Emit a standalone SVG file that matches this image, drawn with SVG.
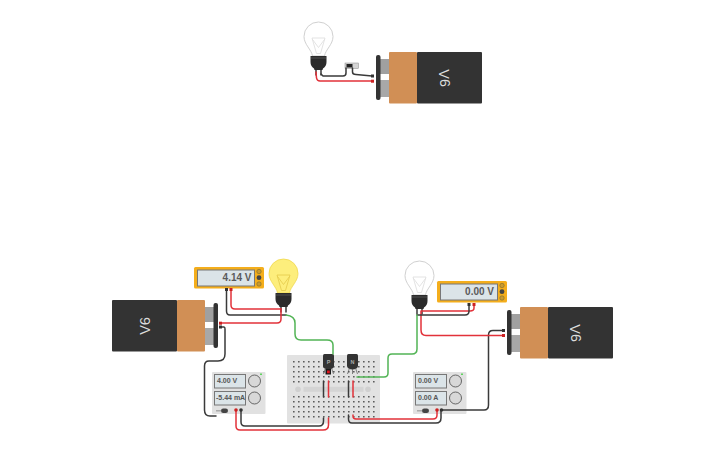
<svg xmlns="http://www.w3.org/2000/svg" width="725" height="453" viewBox="0 0 725 453">
<style>
text{font-family:"Liberation Sans",Arial,sans-serif;font-weight:bold;fill:#555}
.w{fill:none;stroke-width:1.5;stroke-linecap:round;stroke-linejoin:round}
.r{stroke:#e2323a}.k{stroke:#3a3a3a}.g{stroke:#52b455}
.glass{fill:#fff;stroke:#c4c4c4;stroke-width:.8}
.lit{fill:#fdee7c;stroke:#f0d84e;stroke-width:.8}
.fil{fill:none;stroke:#dcdcdc;stroke-width:.8}
.litfil{fill:none;stroke:#e3c94a;stroke-width:.8}
.base{fill:#2b2b2b}
.nine{font-size:14.500px;font-weight:normal;fill:#dcdcdc}
.mt{font-size:10px;text-anchor:end;fill:#5a5a5a}
.pt{font-size:7px;fill:#555}
.scr{fill:#dbe4e8;stroke:#777;stroke-width:1}
.hole{stroke:#5c5c5c;stroke-width:1.6;stroke-dasharray:1.6 3.4;fill:none}
</style>
<defs>
<g id="socket">
<path d="M-2.500 31V39M2.500 31V39" stroke="#2b2b2b" stroke-width="1.400" fill="none"/>
<path class="base" d="M-8 19.500h16v6q0 4 -3.500 6.500l-.5 1.500h-8l-.5 -1.500q-3.500 -2.500 -3.500 -6.500z"/>
<path d="M-7.500 21.500h15" stroke="#888" stroke-width=".6" opacity=".7"/>
</g>
<path id="gl" d="M-6 19.500C-7 13-14.500 8-14.500 0A14.500 14.500 0 0 1 14.500 0C14.500 8 7 13 6 19.500Z"/>
<path id="fl" d="M-6.500 1.500H6.500L2 17H-2ZM-6 3L0 11 6 3"/>
<g id="batL">
<rect x="0" y="0" width="28" height="51.500" fill="#d18f55" rx="1"/>
<rect x="28" y="0" width="65" height="51.500" fill="#333" rx="1"/>
<rect x="-9" y="7" width="9" height="15" fill="#a0a0a0"/>
<rect x="-9" y="28" width="9" height="17" fill="#a8a8a8"/>
<rect x="-13" y="3" width="4.500" height="45" rx="2" fill="#333"/>
</g>
<g id="knobs">
<rect x="0" y="0" width="53.500" height="42" fill="#e1e1e1" rx="1"/>
<rect x="2.500" y="2.500" width="31" height="13.500" class="scr"/>
<rect x="2.500" y="19.500" width="31" height="13.500" class="scr"/>
<circle cx="42.500" cy="9" r="6" fill="#d8d8d8" stroke="#666" stroke-width="1"/>
<circle cx="42.500" cy="26" r="6" fill="#d8d8d8" stroke="#666" stroke-width="1"/>
<rect x="48" y="1.500" width="2" height="1.500" fill="#5fd35f"/>
<rect x="9" y="36.500" width="7" height="4.500" rx="2.200" fill="#444"/>
<rect x="4" y="38" width="5" height="1.500" fill="#aaa"/>
</g>
<g id="dmm">
<rect x="0" y="0" width="70" height="21.500" rx="1.500" fill="#f4ae1c"/>
<rect x="3.500" y="3" width="57" height="16" fill="#dbe4e8" stroke="#777" stroke-width="1"/>
<circle cx="65" cy="4.500" r="2.200" fill="#c99a30" stroke="#7a6a30" stroke-width=".6"/>
<circle cx="65" cy="10.700" r="2.400" fill="#444"/>
<circle cx="65" cy="17" r="2.200" fill="#c99a30" stroke="#7a6a30" stroke-width=".6"/>
</g>
<g id="tr">
<path d="M-5.500 1.500q0 -1.500 1.500 -1.500h8q1.500 0 1.500 1.500v10.500a5.500 3.500 0 0 1 -11 0z" fill="#333"/>
<path d="M-3 14l-2 6M0 15v5M3 14l2 6" stroke="#555" stroke-width=".7" fill="none"/>
</g>
</defs>

<g id="battery-top"><use href="#batL" x="389" y="52"/><text class="nine" transform="translate(444.500 78) rotate(-90)" x="-9" y="5" dx="0 9.700" dy="0 -10.400" rotate="0 180">9V</text></g>
<g id="battery-left"><use href="#batL" transform="matrix(-1 0 0 1 205 300)"/><text class="nine" transform="translate(145 326) rotate(90)" x="-9" y="5" dx="0 9.700" dy="0 -10.400" rotate="0 180">9V</text></g>
<g id="battery-right"><use href="#batL" x="520" y="307"/><text class="nine" transform="translate(575.500 333) rotate(-90)" x="-9" y="5" dx="0 9.700" dy="0 -10.400" rotate="0 180">9V</text></g>

<g id="bulb-top" transform="translate(318.500 36.500)"><use href="#gl" class="glass"/><use href="#fl" class="fil"/><use href="#socket"/></g>
<g id="bulb-left" transform="translate(283.500 273.500)"><use href="#gl" class="lit"/><use href="#fl" class="litfil"/><use href="#socket"/></g>
<g id="bulb-right" transform="translate(419.500 275.500)"><use href="#gl" class="glass"/><use href="#fl" class="fil"/><use href="#socket"/></g>

<g id="switch"><rect x="345" y="63" width="13.500" height="5.500" fill="#d5d5d5" stroke="#888" stroke-width=".5"/><rect x="346.500" y="64" width="6" height="3.500" fill="#222"/></g>

<g id="meter-left"><use href="#dmm" x="194" y="267"/><text class="mt" x="251.500" y="281">4.14 V</text></g>
<g id="meter-right"><use href="#dmm" x="437" y="281"/><text class="mt" x="494" y="295">0.00 V</text></g>

<g id="breadboard">
<rect x="287" y="355" width="93" height="68.500" fill="#e2e2e2" rx="1"/>
<rect x="303.500" y="386.800" width="60" height="5" fill="#d4d4d4"/>
<circle cx="298" cy="389.300" r="2.800" fill="#d0d0d0"/><circle cx="368" cy="389.300" r="2.800" fill="#d0d0d0"/>
<path class="hole" d="M293 361.700H375M293 366.700H375M293 371.700H375M293 376.700H375M293 381.700H375M293 396.700H375M293 401.700H375M293 406.700H375M293 411.700H375M293 416.700H375"/>
</g>

<g id="psu-left"><use href="#knobs" x="212" y="372"/><text class="pt" x="217" y="383">4.00 V</text><text class="pt" x="216" y="399.500">-5.44 mA</text></g>
<g id="psu-right"><use href="#knobs" x="413" y="372"/><text class="pt" x="418" y="383">0.00 V</text><text class="pt" x="418" y="399.500">0.00 A</text></g>

<g id="transistor-p"><use href="#tr" x="328.500" y="354"/><text x="328.500" y="364" text-anchor="middle" font-size="5.500" style="fill:#aaa">P</text></g>
<g id="transistor-n"><use href="#tr" x="352.500" y="354"/><text x="352.500" y="364" text-anchor="middle" font-size="5.500" style="fill:#aaa">N</text></g>
<g id="led"><rect x="325.500" y="369" width="5.500" height="5.500" fill="#1a1a1a"/><rect x="327" y="370.500" width="2.800" height="2.800" fill="#e0141c"/></g>

<g id="connectors">
<path class="w k" d="M321 74L323 76H343Q346 76 346 73V68"/>
<path class="w k" d="M352.500 68V72Q352.500 74.500 356 74.500L372 76"/>
<path class="w r" d="M316 72L316.500 78Q317 81 320 81H372"/>
<path class="w k" d="M226.500 290V311Q226.500 315 230 315H286"/>
<path class="w r" d="M231 290V305Q231 309 235 309H281"/>
<path class="w r" d="M281 309V319Q281 323 277 323H221"/>
<path class="w k" d="M221 327H224Q225 327 225 329V354Q225 361 218 361H209Q204.500 361 204.500 366V410Q204.500 416 210 416H216"/>
<path class="w k" d="M241 410V422Q241 426 245 426H319Q323.500 426 323.500 421V418"/>
<path class="w r" d="M236 410V426Q236 430 240 430H323Q328.500 430 328.500 425V418"/>
<path class="w k" d="M323.500 381V397M348.500 381V397"/>
<path class="w r" d="M328.500 381V397M353 381V397"/>
<path class="w k" d="M348.500 415V419Q348.500 423 352 423H436Q441 423 441 418V410"/>
<path class="w r" d="M353 415V416Q353 419 356 419H433Q437 419 437 415V410"/>
<path class="w k" d="M441 410H484Q488.500 410 488.500 405V335Q488.500 330.500 493 330.500H503"/>
<path class="w r" d="M503 335.500H426Q421 335.500 421 330V311H470Q474 311 474 308V305"/>
<path class="w k" d="M417 315H465Q469 315 469 311V305"/>
<path class="w g" d="M417 315V349Q417 354 412 354H392Q388 354 388 358V373Q388 377 384 377H357"/>
<path class="w g" d="M286 315Q295 316 295 323V334Q295 340 301 340H327Q333 340 333 345V354"/>
<g fill="#c22"><rect x="229.500" y="288" width="3" height="3"/><rect x="472.500" y="303" width="3" height="3"/><rect x="371" y="79.700" width="3" height="3"/><rect x="219" y="321.700" width="3" height="3"/><rect x="502" y="334" width="3" height="3"/><circle cx="236" cy="410" r="1.800"/><circle cx="437" cy="410" r="1.800"/></g>
<g fill="#333"><rect x="225" y="288" width="3" height="3"/><rect x="467.500" y="303" width="3" height="3"/><rect x="371" y="74.500" width="3" height="3"/><rect x="219" y="325.500" width="3" height="3"/><rect x="502" y="329" width="3" height="3"/><circle cx="241" cy="410" r="1.800"/><circle cx="441.500" cy="410" r="1.800"/></g>
</g>
</svg>
